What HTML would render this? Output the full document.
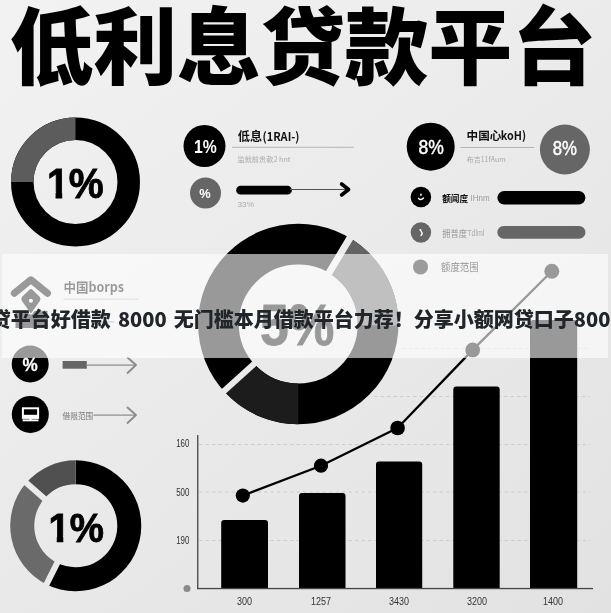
<!DOCTYPE html>
<html lang="zh-CN">
<head>
<meta charset="utf-8">
<title>低利息贷款平台</title>
<style>
html,body{margin:0;padding:0;}
body{width:611px;height:613px;overflow:hidden;position:relative;background:#ebebeb;
  font-family:"Liberation Sans","Noto Sans CJK SC",sans-serif;}
#art{position:absolute;left:0;top:0;width:611px;height:613px;display:block;}
#band{position:absolute;left:2.4px;top:253.7px;width:605.6px;height:104px;background:rgba(255,255,255,0.6);}
#cap{position:absolute;left:-9.3px;top:302px;width:640px;height:34px;line-height:34px;white-space:nowrap;
  font-family:"Noto Sans CJK SC","Liberation Sans",sans-serif;font-weight:900;font-size:20px;color:#212529;letter-spacing:0px;word-spacing:2.6px;}
.n{letter-spacing:0px;}
.t{font-family:"Noto Sans CJK SC","Liberation Sans",sans-serif;}
.l{font-family:"Liberation Sans","Noto Sans CJK SC",sans-serif;}
</style>
</head>
<body>
<svg id="art" width="611" height="613" viewBox="0 0 611 613">
  <defs>
    <linearGradient id="bg" gradientUnits="userSpaceOnUse" x1="0" y1="0" x2="521" y2="684">
      <stop offset="0" stop-color="#f2f2f2"/>
      <stop offset="1" stop-color="#e2e2e2"/>
    </linearGradient>
    <clipPath id="c1" clipPathUnits="userSpaceOnUse">
      <rect x="-2" y="-40" width="28" height="33.8"/>
      <rect x="9.6" y="-40" width="7.4" height="41"/>
      <rect x="25" y="-40" width="46" height="46"/>
    </clipPath>
  </defs>
  <rect x="0" y="0" width="611" height="613" fill="url(#bg)"/>

  <!-- TITLE -->
  <text class="t" x="9.5" y="77.7" font-size="84" font-weight="900" fill="#000" textLength="586.5" lengthAdjust="spacing">低利息贷款平台</text>

  <!-- DONUT TOP LEFT -->
  <g id="d1">
    <circle cx="75.5" cy="182" r="53.2" fill="none" stroke="#000" stroke-width="22.5"/>
    <path d="M75.5 117.5 A64.5 64.5 0 0 0 11 182 L33.5 182 A42 42 0 0 1 75.5 140 Z" fill="#5c5c5c"/>
    <text class="l" transform="translate(47,198.1) scale(0.893,0.96)" font-size="44" font-weight="700" fill="#000" stroke="#000" stroke-width="0.9" clip-path="url(#c1)">1%</text>
  </g>

  <!-- TOP MIDDLE -->
  <g id="m1">
    <circle cx="204.5" cy="146" r="21" fill="#000"/>
    <text class="l" transform="translate(194,152.6) scale(0.9,1)" font-size="17.5" font-weight="700" fill="#fff">1%</text>
    <text class="t" x="237.8" y="140.6" font-size="12.2" font-weight="700" fill="#111">低息</text>
    <text class="t" transform="translate(262.6,140.6) scale(0.9,1)" font-size="12.2" font-weight="700" fill="#111">(1RAI-)</text>
    <rect x="232" y="146.8" width="121.5" height="1" fill="#b5b5b5"/>
    <text class="t" x="237.5" y="162" font-size="7" fill="#aaa" textLength="53" lengthAdjust="spacingAndGlyphs">监就前贵款2 hnt</text>
    <circle cx="205.5" cy="193" r="15.5" fill="#666"/>
    <text class="l" transform="translate(199.3,198) scale(0.95,1)" font-size="13.5" font-weight="700" fill="#fff">%</text>
    <rect x="236.2" y="185.8" width="55.6" height="8.8" rx="4.4" fill="#000"/>
    <rect x="290" y="189" width="58" height="1" fill="#555"/>
    <path d="M341.6 184 L348.6 189.5 L341.6 195" fill="none" stroke="#000" stroke-width="3.6" stroke-linecap="round" stroke-linejoin="round"/>
    <text class="l" x="237.5" y="207.4" font-size="7.5" fill="#aaa" textLength="16.5" lengthAdjust="spacingAndGlyphs">33%</text>
  </g>

  <!-- TOP RIGHT -->
  <g id="r1">
    <circle cx="430.7" cy="146.7" r="24" fill="#000"/>
    <text class="l" transform="translate(418.6,154) scale(0.9,1)" font-size="19.5" fill="#fff" stroke="#fff" stroke-width="0.45">8%</text>
    <text class="t" x="466.6" y="139.9" font-size="11.6" font-weight="700" fill="#111">中国心</text>
    <text class="t" transform="translate(500.8,139.9) scale(0.93,1)" font-size="11.6" font-weight="700" fill="#111">koH)</text>
    <rect x="460.5" y="147" width="74" height="1" fill="#b5b5b5"/>
    <text class="t" x="466.7" y="162.2" font-size="7" fill="#aaa" textLength="39" lengthAdjust="spacingAndGlyphs">布吉11fAum</text>
    <circle cx="564.9" cy="149.5" r="25" fill="#666"/>
    <text class="l" transform="translate(552.8,154.5) scale(0.86,1)" font-size="19.5" fill="#fff" stroke="#fff" stroke-width="0.45">8%</text>

    <circle cx="420.9" cy="197" r="10.3" fill="#000"/>
    <rect x="420.2" y="193.4" width="1.5" height="2.6" rx="0.7" fill="#fff"/>
    <path d="M418.6 198.4 Q420.9 200.9 423.4 198" fill="none" stroke="#fff" stroke-width="1.5" stroke-linecap="round"/>
    <text class="t" x="442.2" y="201.6" font-size="9.4" font-weight="700" fill="#111" textLength="26" lengthAdjust="spacingAndGlyphs">额闻度</text>
    <text class="l" x="470.6" y="201.4" font-size="8.5" fill="#999" textLength="19" lengthAdjust="spacingAndGlyphs">IHnm</text>
    <rect x="497.4" y="191" width="88" height="13.4" rx="6.7" fill="#000"/>

    <circle cx="420.9" cy="232.5" r="10.2" fill="#666"/>
    <circle cx="420.5" cy="230" r="1.1" fill="#fff"/>
    <path d="M421.2 231.5 Q423.2 233.2 421 235.6" fill="none" stroke="#fff" stroke-width="1.4" stroke-linecap="round"/>
    <text class="t" x="442.2" y="236.6" font-size="9.2" fill="#999" textLength="24.8" lengthAdjust="spacingAndGlyphs">拥普度</text>
    <text class="l" x="467.3" y="236.4" font-size="8.5" fill="#aaa" textLength="17" lengthAdjust="spacingAndGlyphs">Tdlml</text>
    <rect x="497.4" y="226" width="88" height="12.7" rx="6.3" fill="#666"/>

    <circle cx="420.5" cy="266.9" r="7.5" fill="#080808"/>
    <text class="t" x="441" y="270.8" font-size="10" font-weight="500" fill="#1a1a1a" textLength="37.6" lengthAdjust="spacingAndGlyphs">额度范围</text>
  </g>

  <!-- BIG DONUT -->
  <g id="big">
    <circle cx="298.3" cy="324" r="79.85" fill="none" stroke="#000" stroke-width="40.7"/>
    <g id="bigseg">
      <path d="M349.9 238.1 A100.2 100.2 0 0 1 398.5 325.7 L357.8 325.0 A59.5 59.5 0 0 0 328.9 273.0 Z" fill="#636363"/>
      <path d="M298.3 424.2 A100.2 100.2 0 0 1 223.8 391.0 L254.1 363.8 A59.5 59.5 0 0 0 298.3 383.5 Z" fill="#1c1c1c"/>
      <line x1="327.9" y1="274.7" x2="350.9" y2="236.4" stroke="#ebebeb" stroke-width="7"/>
      <line x1="255.6" y1="362.5" x2="222.4" y2="392.4" stroke="#eaeaea" stroke-width="6"/>
    </g>
    <text class="l" transform="translate(259.9,344.6) scale(0.914,1)" font-size="56.5" font-weight="700" fill="#000" stroke="#000" stroke-width="0.8">5%</text>
  </g>

  <!-- LEFT MIDDLE -->
  <g id="lm">
    <rect x="15.5" y="310.8" width="32" height="17.2" fill="#000"/>
    <path d="M30.9 288.4 Q32.1 288.4 33.2 289.5 L40.2 296.3 Q42 298.5 40.6 301.2 L32.1 313.2 Q30.9 314.6 29.7 313.2 L21.2 301.2 Q19.8 298.5 21.6 296.3 L28.6 289.5 Q29.7 288.4 30.9 288.4 Z" fill="#000" stroke="#f2f2f2" stroke-width="1.4" stroke-linejoin="round"/>
    <path d="M14.3 293.3 L30.9 279.8 L47.5 293.3" fill="none" stroke="#000" stroke-width="7" stroke-linecap="round" stroke-linejoin="round"/>
    <circle cx="30.9" cy="300.7" r="2" fill="#fff"/>
    <text class="t" x="63.4" y="292" font-size="13" font-weight="700" fill="#000" textLength="60.5" lengthAdjust="spacingAndGlyphs">中国borps</text>
    <rect x="63.4" y="298.6" width="75" height="1" fill="#aaa"/>
    <rect x="92" y="321.4" width="22" height="1" fill="#777"/>

    <circle cx="30.2" cy="364" r="18.5" fill="#000"/>
    <text class="l" transform="translate(22.6,371) scale(0.9,1)" font-size="19" font-weight="700" fill="#fff" stroke="#fff" stroke-width="0.3">%</text>
    <rect x="62.6" y="361" width="24.2" height="7.7" fill="#666"/>
    <rect x="86" y="364.5" width="50" height="1.2" fill="#8a8a8a"/>
    <path d="M127.5 357.5 L136 365 L127.5 373" fill="none" stroke="#8a8a8a" stroke-width="1.8" stroke-linecap="round" stroke-linejoin="round"/>

    <circle cx="30.3" cy="414.4" r="18.5" fill="#000"/>
    <rect x="22.9" y="408.3" width="15.2" height="9.6" fill="none" stroke="#fff" stroke-width="2"/>
    <rect x="22.6" y="419.4" width="15.8" height="1.9" fill="#fff"/><rect x="29.5" y="417.5" width="2" height="2.5" fill="#fff"/>
    <rect x="23.5" y="414.8" width="14" height="2.2" fill="#fff"/>
    <text class="t" x="62.6" y="418.5" font-size="7.5" font-weight="500" fill="#888" textLength="30.6" lengthAdjust="spacingAndGlyphs">借限范围</text>
    <rect x="93.5" y="414.5" width="42.5" height="1.2" fill="#8a8a8a"/>
    <path d="M127.5 407.5 L136 415 L127.5 423" fill="none" stroke="#8a8a8a" stroke-width="1.8" stroke-linecap="round" stroke-linejoin="round"/>
  </g>

  <!-- DONUT BOTTOM LEFT -->
  <g id="d2">
    <path d="M75.7 460.3 A65.5 65.5 0 1 1 46.5 584.4 L57.2 562.9 A41.5 41.5 0 1 0 75.7 484.3 Z" fill="#000"/>
    <path d="M46.5 584.4 A65.5 65.5 0 0 1 26.3 482.8 L44.4 498.6 A41.5 41.5 0 0 0 57.2 562.9 Z" fill="#6a6a6a"/>
    <path d="M26.3 482.8 A65.5 65.5 0 0 1 75.7 460.3 L75.7 484.3 A41.5 41.5 0 0 0 44.4 498.6 Z" fill="#505050"/>
    <line x1="58.1" y1="561.1" x2="45.6" y2="586.2" stroke="#e9e9e9" stroke-width="6"/>
    <line x1="45.9" y1="499.9" x2="24.8" y2="481.5" stroke="#ebebeb" stroke-width="6"/>
    <text class="l" transform="translate(48.4,541.7) scale(0.874,0.92)" font-size="44" font-weight="700" fill="#000" stroke="#000" stroke-width="0.9" clip-path="url(#c1)">1%</text>
  </g>

  <!-- CHART -->
  <g id="chart">
    <g stroke="#cdcdcd" stroke-width="1" stroke-dasharray="3.5 3">
      <line x1="402" y1="348.5" x2="590" y2="348.5"/>
      <line x1="374" y1="396.5" x2="590" y2="396.5"/>
      <line x1="199" y1="444.5" x2="590" y2="444.5"/>
      <line x1="199" y1="492" x2="590" y2="492"/>
      <line x1="199" y1="540.5" x2="590" y2="540.5"/>
    </g>
    <g fill="#000">
      <path d="M221.2 588.5 V523 a3 3 0 0 1 3 -3 H265 a3 3 0 0 1 3 3 V588.5 Z"/>
      <path d="M299 588.5 V496 a3 3 0 0 1 3 -3 H342.5 a3 3 0 0 1 3 3 V588.5 Z"/>
      <path d="M376 588.5 V464.5 a3 3 0 0 1 3 -3 H419.2 a3 3 0 0 1 3 3 V588.5 Z"/>
      <path d="M453.3 588.5 V389.5 a3 3 0 0 1 3 -3 H496.7 a3 3 0 0 1 3 3 V588.5 Z"/>
      <path d="M530 588.5 V323 a3 3 0 0 1 3 -3 H574.2 a3 3 0 0 1 3 3 V588.5 Z"/>
    </g>
    <rect x="197.1" y="435" width="1.3" height="154" fill="#444"/>
    <rect x="197" y="587.9" width="396" height="1.3" fill="#444"/>
    <circle cx="187" cy="588.5" r="3.5" fill="#8a8a8a"/>
    <polyline points="242.8,495.6 321,465.7 397.6,428 472.7,349.9 551.8,271.2" fill="none" stroke="#000" stroke-width="2.3" stroke-linejoin="round"/>
    <g fill="#000">
      <circle cx="242.8" cy="495.6" r="7.1"/>
      <circle cx="321" cy="465.7" r="7.1"/>
      <circle cx="397.6" cy="428" r="7.3"/>
      <circle cx="472.7" cy="349.9" r="7.4"/>
      <circle cx="551.8" cy="271.2" r="7.5"/>
    </g>
    <g class="l" font-size="10" fill="#2e2e2e">
      <text transform="translate(176.2,447.3) scale(0.79,1)">160</text>
      <text transform="translate(176.2,495.6) scale(0.79,1)">500</text>
      <text transform="translate(176.2,544) scale(0.79,1)">190</text>
    </g>
    <g class="l" font-size="10" fill="#333" text-anchor="middle">
      <text transform="translate(244.6,604.8) scale(0.9,1)">300</text>
      <text transform="translate(321,604.8) scale(0.9,1)">1257</text>
      <text transform="translate(399,604.8) scale(0.9,1)">3430</text>
      <text transform="translate(477,604.8) scale(0.9,1)">3200</text>
      <text transform="translate(553,604.8) scale(0.9,1)">1400</text>
    </g>
  </g>
</svg>
<div id="band"></div>
<div id="cap">贷平台好借款 <span class="n">8000</span> 无门槛本月借款平台力荐！分享小额网贷口子<span class="n">8000</span></div>
</body>
</html>
